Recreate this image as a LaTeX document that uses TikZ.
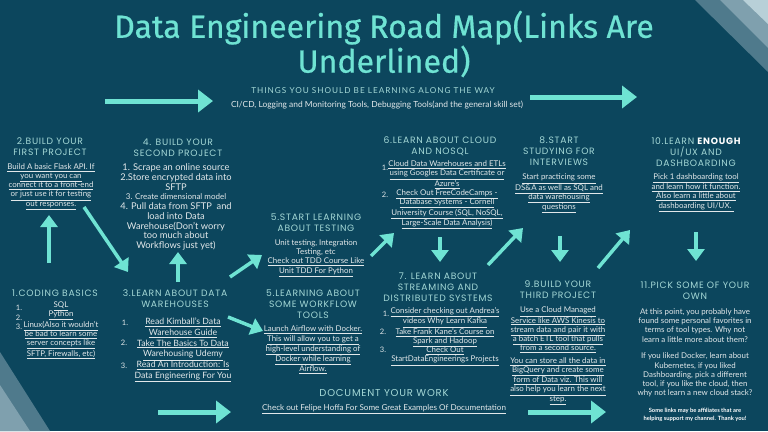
\documentclass[tikz,border=0pt]{standalone}
\usepackage{fontspec}
\setmainfont{Lato}
\newfontfamily\titlefont{Fira Sans}[FakeBold=0.6]
\newfontfamily\headfont{Poppins}[LetterSpace=8]
\newfontfamily\capsfont{Lato}[LetterSpace=12]
\usetikzlibrary{arrows.meta}
\definecolor{bg}{HTML}{0C465D}
\definecolor{aqua}{HTML}{6FE3D3}
\definecolor{headc}{HTML}{A4D8D6}
\definecolor{bodyc}{HTML}{E2E8EA}
\definecolor{decoA}{HTML}{4F7A8C}
\definecolor{decoB}{HTML}{7FA0AE}
\definecolor{decoC}{HTML}{B8D0D8}
\newcommand\lk[1]{\underline{#1}}
\tikzset{
  hdtext/.style={font=\headfont\fontsize{9.2}{11}\selectfont, text=headc, align=center, inner sep=0pt},
  bdtext/.style={font=\fontsize{7.9}{9.2}\selectfont, text=bodyc, align=center, inner sep=0pt},
  bgtext/.style={font=\fontsize{8.7}{10.8}\selectfont, text=bodyc, align=center, inner sep=0pt},
  numtext/.style={font=\fontsize{7.5}{9.2}\selectfont, text=bodyc, inner sep=0pt},
  bigarr/.style={draw=aqua, line width=5pt, -{Triangle[width=22pt,length=15pt]}},
  midarr/.style={draw=aqua, line width=3.5pt, -{Triangle[width=17pt,length=12pt]}},
}
\begin{document}
\begin{tikzpicture}[x=1pt,y=-1pt]
\fill[bg] (0,0) rectangle (768,431);
\useasboundingbox (0,0) rectangle (768,431);
% decorations
\fill[decoA] (695,0) -- (768,0) -- (768,72) -- cycle;
\fill[decoB] (720,0) -- (768,0) -- (768,48) -- cycle;
\fill[decoC] (743,0) -- (768,0) -- (768,24) -- cycle;
\fill[decoA] (0,352) -- (0,431) -- (50,431) -- cycle;
\fill[decoB] (0,385) -- (0,431) -- (30,431) -- cycle;

% title
\node[font=\titlefont\fontsize{32}{33}\selectfont, text=aqua, align=center, inner sep=0pt] (title) at (384,44) {Data Engineering Road Map(Links Are\\Underlined)};

% top band
\node[font=\capsfont\fontsize{8.2}{9}\selectfont, text=headc, inner sep=0pt] (things) at (373,91) {THINGS YOU SHOULD BE LEARNING ALONG THE WAY};
\node[font=\fontsize{8.4}{9}\selectfont, text=bodyc, inner sep=0pt] (thingsb) at (377,105) {CI/CD, Logging and Monitoring Tools, Debugging Tools(and the general skill set)};
\coordinate (t1s) at (105,101); \coordinate (t1e) at (213,101);
\coordinate (t2s) at (530,97); \coordinate (t2e) at (637,97);
\draw[bigarr] (t1s) -- (t1e);
\draw[bigarr] (t2s) -- (t2e);

% column 1
\node[hdtext] (h2) at (50,147) {2.BUILD YOUR\\FIRST PROJECT};
\node[bdtext] (b2) at (51,186.5) {\lk{Build A basic Flask API. If}\\\lk{you want you can}\\\lk{connect it to a front-end}\\\lk{or just use it for testing}\\\lk{out responses.}};
\coordinate (a1s) at (49,263); \coordinate (a1e) at (49,215);
\draw[midarr] (a1s) -- (a1e);
\node[hdtext] (h1) at (55,293) {1.CODING BASICS};
\node[numtext, align=left] (n1) at (19,317.5) {1.\\2.\\3.};
\node[bdtext] (b1) at (61,330.5) {\lk{SQL}\\\lk{Python}\\\lk{Linux(Also it wouldn't}\\\lk{be bad to learn some}\\\lk{server concepts like}\\\lk{SFTP, Firewalls, etc)}};
\coordinate (a2s) at (84,207); \coordinate (a2e) at (128,272);
\draw[midarr] (a2s) -- (a2e);

% column 2
\node[hdtext] (h4) at (178,147.5) {4. BUILD YOUR\\SECOND PROJECT};
\node[font=\fontsize{9.3}{9.75}\selectfont, text=bodyc, align=center, inner sep=0pt] (b4) at (176,207) {1. Scrape an online source\\2.Store encrypted data into\\SFTP\\{\fontsize{8}{9.75}\selectfont 3. Create dimensional model}\\4. Pull data from SFTP\ \ and\\load into Data\\Warehouse(Don't worry\\too much about\\Workflows just yet)};
\coordinate (a3s) at (178,282); \coordinate (a3e) at (178,252);
\draw[midarr] (a3s) -- (a3e);
\coordinate (a4s) at (230,277); \coordinate (a4e) at (262,255);
\draw[midarr] (a4s) -- (a4e);
\node[hdtext] (h3) at (175,298.5) {3.LEARN ABOUT DATA\\WAREHOUSES};
\node[numtext] (n3a) at (125,323) {1.};
\node[numtext] (n3b) at (124,343) {2.};
\node[numtext] (n3c) at (124,366) {3.};
\node[bgtext] (b3) at (183,350) {\lk{Read Kimball's Data}\\\lk{Warehouse Guide}\\\lk{Take The Basics To Data}\\\lk{Warehousing Udemy}\\\lk{Read An Introduction: Is}\\\lk{Data Engineering For You}};
\coordinate (a5s) at (228,317); \coordinate (a5e) at (263,331);
\draw[midarr] (a5s) -- (a5e);

% column 3
\node[hdtext] (h5a) at (316,222.5) {5.START LEARNING\\ABOUT TESTING};
\node[bdtext] (b5a) at (316,258) {Unit testing, Integration\\Testing, etc\\\lk{Check out TDD Course Like}\\\lk{Unit TDD For Python}};
\coordinate (a6s) at (371,256); \coordinate (a6e) at (394,233);
\draw[midarr] (a6s) -- (a6e);
\node[hdtext] (h5b) at (313,304) {5.LEARNING ABOUT\\SOME WORKFLOW\\TOOLS};
\node[bdtext] (b5b) at (313,350) {\lk{Launch Airflow with Docker.}\\\lk{This will allow you to get a}\\\lk{high-level understanding of}\\\lk{Docker while learning}\\\lk{Airflow.}};

% column 4
\node[hdtext] (h6) at (440,146.5) {6.LEARN ABOUT CLOUD\\AND NOSQL};
\node[numtext] (n6a) at (385,168) {1.};
\node[numtext] (n6b) at (385,195) {2.};
\node[bdtext] (b6) at (447,195) {\lk{Cloud Data Warehouses and ETLs}\\\lk{using Googles Data Certificate or}\\\lk{Azure's}\\\lk{Check Out FreeCodeCamps -}\\\lk{Database Systems - Cornell}\\\lk{University Course (SQL, NoSQL,}\\\lk{Large-Scale Data Analysis)}};
\coordinate (a7s) at (440,237); \coordinate (a7e) at (440,262);
\draw[midarr] (a7s) -- (a7e);
\coordinate (a8s) at (488,265); \coordinate (a8e) at (523,228);
\draw[midarr] (a8s) -- (a8e);
\node[hdtext] (h7) at (438,287) {7. LEARN ABOUT\\STREAMING AND\\DISTRIBUTED SYSTEMS};
\node[numtext] (n7a) at (386,314) {1.};
\node[numtext] (n7b) at (383,332) {2.};
\node[numtext] (n7c) at (383,350) {3.};
\node[bdtext] (b7) at (445,336.5) {\lk{Consider checking out Andrea's}\\\lk{videos Why Learn Kafka}\\\lk{Take Frank Kane's Course on}\\\lk{Spark and Hadoop}\\\lk{Check Out}\\\lk{StartDataEngineerings Projects}};

% column 5
\node[hdtext] (h8) at (559,151.5) {8.START\\STUDYING FOR\\INTERVIEWS};
\node[bdtext] (b8) at (559,193.5) {\lk{Start practicing some}\\\lk{DS\&A as well as SQL and}\\\lk{data warehousing}\\\lk{questions}};
\coordinate (a9s) at (560,236); \coordinate (a9e) at (560,262);
\draw[midarr] (a9s) -- (a9e);
\coordinate (a10s) at (598,268); \coordinate (a10e) at (630,230);
\draw[midarr] (a10s) -- (a10e);
\node[hdtext] (h9) at (558,290) {9.BUILD YOUR\\THIRD PROJECT};
\node[bdtext] (b9a) at (558,330) {\lk{Use a Cloud Managed}\\\lk{Service like AWS Kinesis to}\\\lk{stream data and pair it with}\\\lk{a batch ETL tool that pulls}\\\lk{from a second source.}};
\node[bdtext] (b9b) at (558,381) {\lk{You can store all the data in}\\\lk{BigQuery and create some}\\\lk{form of Data viz. This will}\\\lk{also help you learn the next}\\\lk{step.}};
\coordinate (a11s) at (528,412); \coordinate (a11e) at (606,412);
\draw[bigarr] (a11s) -- (a11e);

% column 6
\node[hdtext] (h10) at (696,152) {10.LEARN {\bfseries\color{white}ENOUGH}\\UI/UX AND\\DASHBOARDING};
\node[bdtext] (b10) at (696,192.5) {\lk{Pick 1 dashboarding tool}\\\lk{and learn how it function.}\\\lk{Also learn a little about}\\\lk{dashboarding UI/UX. }};
\coordinate (a12s) at (696,232); \coordinate (a12e) at (696,261);
\draw[midarr] (a12s) -- (a12e);
\node[hdtext] (h11) at (695,290.5) {11.PICK SOME OF YOUR\\OWN};
\node[bdtext] (b11a) at (695,325.5) {At this point, you probably have\\found some personal favorites in\\terms of tool types. Why not\\learn a little more about them?};
\node[bdtext] (b11b) at (695,375) {If you liked Docker, learn about\\Kubernetes, if you liked\\Dashboarding, pick a different\\tool, if you like the cloud, then\\why not learn a new cloud stack?};
\node[font=\bfseries\fontsize{5.8}{7.5}\selectfont, text=white, align=center, inner sep=0pt] (b11c) at (695,415) {Some links may be affiliates that are\\helping support my channel. Thank you!};

% bottom band
\node[hdtext, font=\headfont\fontsize{10}{11}\selectfont] (doc) at (384,393) {DOCUMENT YOUR WORK};
\node[bdtext, font=\fontsize{8.1}{9}\selectfont] (docb) at (384,409) {\lk{Check out Felipe Hoffa For Some Great Examples Of Documentation}};
\coordinate (a13s) at (158,412); \coordinate (a13e) at (231,412);
\draw[bigarr] (a13s) -- (a13e);
\end{tikzpicture}
\end{document}
